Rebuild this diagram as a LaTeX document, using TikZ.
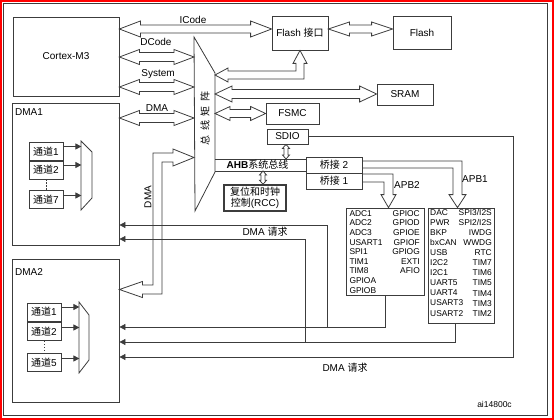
\documentclass[tikz,border=0pt]{standalone}
\usepackage{fontspec}
\setmainfont{Liberation Sans}
\newfontfamily\cjk{Noto Sans CJK SC}
\usetikzlibrary{calc,arrows.meta}
\definecolor{ln}{RGB}{60,60,60}

\newcommand{\dbush}[5]{\draw[bus] let \p1=(#1), \p2=(#2) in
	(\x1,\y1) -- (\x1+#3pt,\y1+#4pt) -- (\x1+#3pt,\y1+#5pt) -- (\x2-#3pt,\y1+#5pt)
	-- (\x2-#3pt,\y1+#4pt) -- (\x2,\y1) -- (\x2-#3pt,\y1-#4pt) -- (\x2-#3pt,\y1-#5pt)
	-- (\x1+#3pt,\y1-#5pt) -- (\x1+#3pt,\y1-#4pt) -- cycle;}

\newcommand{\dbusv}[5]{\draw[bus] let \p1=(#1), \p2=(#2) in
	(\x1,\y1) -- (\x1+#4pt,\y1-#3pt) -- (\x1+#5pt,\y1-#3pt) -- (\x1+#5pt,\y2+#3pt)
	-- (\x1+#4pt,\y2+#3pt) -- (\x1,\y2) -- (\x1-#4pt,\y2+#3pt) -- (\x1-#5pt,\y2+#3pt)
	-- (\x1-#5pt,\y1-#3pt) -- (\x1-#4pt,\y1-#3pt) -- cycle;}

\tikzset{
	box/.style={draw=ln, line width=0.8pt, inner sep=0pt, font=\fontsize{10}{12}\selectfont},
	chan/.style={box, minimum width=34, minimum height=18},
	lbl/.style={inner sep=0pt, font=\fontsize{10}{12}\selectfont},
	regs/.style={inner sep=0pt, font=\fontsize{8.4}{9.65}\selectfont},
	bus/.style={draw=ln, line width=0.8pt, line join=miter},
	req/.style={draw=ln, line width=0.8pt, -{Triangle[length=6pt,width=6pt]}},
	chn/.style={draw=ln, line width=0.8pt, -{Triangle[length=6pt,width=6pt]}}
}

\begin{document}
\begin{tikzpicture}[x=1pt,y=-1pt]
	
	\useasboundingbox (0,0) rectangle (554,420);
	\draw[red, line width=2pt] (1,1) rectangle (553,419);
	\draw[ln, line width=0.8pt] (3.5,3.5) rectangle (547,415.5);
	
	\node[box, minimum width=106, minimum height=79] (cm) at (66,56.5) {Cortex-M3};
	
	\node[box, minimum width=56, minimum height=34] (fif) at (300,33) {Flash {\cjk 接口}};
	
	\node[box, minimum width=58, minimum height=33] (fl) at (422,32.5) {Flash};
	
	\node[box, minimum width=56, minimum height=21] (sram) at (405,94.5) {SRAM};
	
	\node[box, minimum width=53, minimum height=21] (fsmc) at (292.5,113.5) {FSMC};
	
	\node[box, minimum width=41, minimum height=15] (sdio) at (287.5,136.5) {SDIO};
	
	\node[box, line width=1.5pt, minimum width=62, minimum height=26, align=center, font=\fontsize{10}{11}\selectfont] (rcc) at (255,198) {{\cjk 复位和时钟}\\{\cjk 控制}(RCC)};
	
	\node[box, minimum width=56, minimum height=16] (br2) at (334,165) {{\cjk 桥接} 2};
	
	\node[box, minimum width=56, minimum height=16] (br1) at (334,181) {{\cjk 桥接} 1};
	
	\node[box, minimum width=78, minimum height=87] (apb2) at (385,251.5) {};
	
	\node[box, minimum width=66, minimum height=115] (apb1) at (461,265.5) {};
	
	\node[regs, anchor=north west, align=left] (r2l) at (349.3,210) {ADC1\\ADC2\\ADC3\\USART1\\SPI1\\TIM1\\TIM8\\GPIOA\\GPIOB};
	
	\node[regs, anchor=north east, align=right] (r2r) at (420,210) {GPIOC\\GPIOD\\GPIOE\\GPIOF\\GPIOG\\EXTI\\AFIO};
	
	\node[regs, anchor=north west, align=left, font=\fontsize{8.4}{10.1}\selectfont] (r1l) at (430,209) {DAC\\PWR\\BKP\\bxCAN\\USB\\I2C2\\I2C1\\UART5\\UART4\\USART3\\USART2};
	
	\node[regs, anchor=north east, align=right, font=\fontsize{8.4}{10.1}\selectfont] (r1r) at (492,209) {SPI3/I2S\\SPI2/I2S\\IWDG\\WWDG\\RTC\\TIM7\\TIM6\\TIM5\\TIM4\\TIM3\\TIM2};
	
	\node[box, minimum width=107, minimum height=142] (dma1) at (65.5,174) {};
	\node[lbl, anchor=west] (d1t) at (15,112.5) {DMA1};
	
	\node[chan] (c11) at (46,151.5) {{\cjk 通道}1};
	\node[chan] (c12) at (46,170) {{\cjk 通道}2};
	\node[chan] (c17) at (46,199.5) {{\cjk 通道}7};
	\draw[ln, line width=0.8pt, dash pattern=on 1.5pt off 1.5pt] (c12.south) -- (c17.north);
	\draw[bus] (81,141) -- (92,152) -- (92,198) -- (81,210) -- cycle;
	\draw[chn] ([yshift=5pt]c11.east) -- ++(18,0);
	\draw[chn] ([yshift=5pt]c12.east) -- ++(18,0);
	\draw[chn] ([yshift=4pt]c17.east) -- ++(18,0);
	
	\node[box, minimum width=107, minimum height=143] (dma2) at (65.5,330.5) {};
	\node[lbl, anchor=west] (d2t) at (15,272) {DMA2};
	
	\node[chan] (c21) at (44,312) {{\cjk 通道}1};
	\node[chan] (c22) at (44,331.5) {{\cjk 通道}2};
	\node[chan] (c25) at (44,362.5) {{\cjk 通道}5};
	\draw[ln, line width=0.8pt, dash pattern=on 1.5pt off 1.5pt] (c22.south) -- (c25.north);
	\draw[bus] (79,302) -- (89,315) -- (89,360) -- (79,373) -- cycle;
	\draw[chn] ([yshift=5pt]c21.east) -- ++(18,0);
	\draw[chn] ([yshift=4pt]c22.east) -- ++(18,0);
	\draw[chn] ([yshift=4pt]c25.east) -- ++(18,0);
	
	\coordinate (bmL) at (194,0);
	\coordinate (bmR) at (215,0);
	\draw[bus] (194,37) -- (215,73) -- (215,172) -- (195,211) -- cycle;
	\node[lbl, rotate=90] (bmt) at (205,118.5) {\cjk 总\hspace{4.5pt}线\hspace{4.5pt}矩\hspace{4.5pt}阵};
	
	\node[lbl] (ic) at (193,20) {ICode};
	\node[lbl] (dc) at (156,42) {DCode};
	\node[lbl] (sy) at (158,74) {System};
	\node[lbl] (dm) at (157,108) {DMA};
	\node[lbl, rotate=90] (dmv) at (148,197) {DMA};
	
	\dbush{cm.east |- 0,29}{fif.west |- 0,29}{21}{8}{4}
	\dbush{cm.east |- 0,57}{bmL |- 0,57}{20}{7.5}{4.5}
	\dbush{cm.east |- 0,87}{bmL |- 0,87}{20}{7.5}{4.5}
	\dbush{dma1.east |- 0,118}{bmL |- 0,118}{20}{7.5}{4.5}
	\dbush{fif.east |- 0,29}{fl.west |- 0,29}{21}{7}{4}
	\dbush{bmR |- 0,94}{sram.west}{17}{8}{4.5}
	\dbush{bmR |- 0,113.5}{fsmc.west}{15}{7}{4}
	
	\draw[bus] let \p1=(bmR |- 0,75), \p2=(fif.south) in
	(\x1,\y1) -- (\x1+13pt,\y1+7pt) -- (\x1+13pt,\y1+4pt) -- (\x2-4pt,\y1+4pt)
	-- (\x2-4pt,\y2-13pt) -- (\x2-7pt,\y2-13pt) -- (\x2,\y2) -- (\x2+7pt,\y2-13pt)
	-- (\x2+4pt,\y2-13pt) -- (\x2+4pt,\y1-4pt) -- (\x1+13pt,\y1-4pt) -- (\x1+13pt,\y1-7pt) -- cycle;
	
	\draw[bus] let \p1=(bmL |- 0,157.5), \p2=(dma2.east |- 0,289.5), \p3=(157.5,0) in
	(\x1,\y1) -- (\x1-21pt,\y1+8.5pt) -- (\x1-21pt,\y1+4.5pt) -- (\x3-4.5pt,\y1+4.5pt)
	-- (\x3-4.5pt,\y2+4.5pt) -- (\x2+23pt,\y2+4.5pt) -- (\x2+23pt,\y2+8pt) -- (\x2,\y2)
	-- (\x2+23pt,\y2-8pt) -- (\x2+23pt,\y2-4.5pt) -- (\x3+4.5pt,\y2-4.5pt) -- (\x3+4.5pt,\y1-4.5pt)
	-- (\x1-21pt,\y1-4.5pt) -- (\x1-21pt,\y1-8.5pt) -- cycle;
	
	\coordinate (ahbT) at (215,159);
	\coordinate (ahbB) at (215,171);
	\draw[bus] (ahbT) -- (ahbT -| br2.west);
	\draw[bus] (ahbB) -- (ahbB -| br2.west);
	\node[lbl] (ahb) at (257.5,165) {\textbf{AHB}{\cjk 系统总线}};
	
	\dbusv{sdio.south -| 286,0}{ahbT -| 286,0}{4}{3.5}{2}
	\dbusv{ahbB -| 263,0}{rcc.north -| 263,0}{4}{3.5}{2}
	
	\draw[bus] let \p1=(br2.east |- 0,164.5), \p2=(apb1.north -| 457.5,0) in
	(\x1,\y1+3.5pt) -- (\x2+4.5pt,\y1+3.5pt) -- (\x2+4.5pt,\y2+13pt) -- (\x2+8.5pt,\y2+13pt)
	-- (\x2,\y2) -- (\x2-8.5pt,\y2+13pt) -- (\x2-4.5pt,\y2+13pt) -- (\x2-4.5pt,\y1-3.5pt) -- (\x1,\y1-3.5pt);
	
	\draw[bus] let \p1=(br1.east |- 0,178), \p2=(apb2.north -| 388.5,0) in
	(\x1,\y1+4pt) -- (\x2+4.5pt,\y1+4pt) -- (\x2+4.5pt,\y2+13pt) -- (\x2+7.5pt,\y2+13pt)
	-- (\x2,\y2) -- (\x2-7.5pt,\y2+13pt) -- (\x2-4.5pt,\y2+13pt) -- (\x2-4.5pt,\y1-4pt) -- (\x1,\y1-4pt);
	
	\node[lbl] (p2) at (407,185) {APB2};
	\node[lbl] (p1) at (475,179) {APB1};
	
	\coordinate (j1) at (327,327);
	\coordinate (j2) at (305,342);
	\coordinate (sd) at (513,357);
	\draw[req] (apb2.south) |- (dma2.east |- j1);
	\draw[req] (j1) |- (dma1.east |- 0,225);
	\draw[req] ([xshift=-6pt]apb1.south) |- (dma2.east |- j2);
	\draw[req] (j2) |- (dma1.east |- 0,239);
	\draw[req] (sdio.east) -| (sd) -- (dma2.east |- sd);
	
	\node[lbl] (rq1) at (265,232) {DMA {\cjk 请求}};
	\node[lbl] (rq2) at (345,368) {DMA {\cjk 请求}};
	\node[lbl, font=\fontsize{8.5}{10}\selectfont] (ai) at (494.5,404) {ai14800c};
	
\end{tikzpicture}
\end{document}
